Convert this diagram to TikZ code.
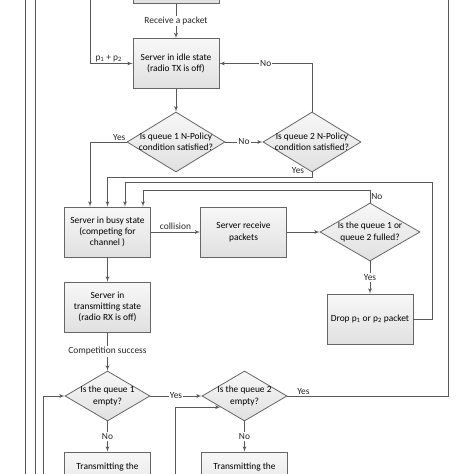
\documentclass[tikz,border=0pt]{standalone}
\usepackage{fontspec}
\setmainfont{Carlito}
\usepackage{tikz}
\usetikzlibrary{arrows,shapes,positioning,calc}

\newcommand{\dline}[1]{\makebox[0pt]{#1}}

\begin{document}
\begin{tikzpicture}[->,>=latex',x=1pt,y=-1pt,on grid,
	line width=0.8pt,draw=black!65,
	font=\fontsize{9.4}{11.3}\selectfont]

\tikzset{
	stateBox/.style={
		rectangle,
		draw=black!60,
		top color=black!3,
		bottom color=black!12,
		minimum width=86pt,
		minimum height=50pt,
		align=center,
		inner sep=1pt,
		line width=0.8pt
	}
}

\tikzset{
	decisionNode/.style={
		diamond,
		draw=black!60,
		top color=black!3,
		bottom color=black!12,
		aspect=1.65,
		inner sep=0pt,
		align=center,
		line width=0.8pt
	}
}

\tikzset{
	onLine/.style={fill=white,inner sep=1pt,text=black!85},
	sideText/.style={inner sep=1pt,text=black!85}
}

\path[use as bounding box,clip] (0,0) rectangle (474,474);

\node[stateBox](idle) at (176,63.5) {Server in idle state\\(radio TX is off)};
\node[stateBox](recvTop) [above=85pt of idle] {};

\node[decisionNode,minimum width=98pt,minimum height=60pt](queueOne) [below=78.5pt of idle] {\dline{Is queue 1 N-Policy}\\\dline{condition satisfied?}};
\node[decisionNode,minimum width=98pt,minimum height=60pt](queueTwo) [right=136pt of queueOne] {\dline{Is queue 2 N-Policy}\\\dline{condition satisfied?}};

\node[stateBox](busy) [below left=90pt and 68.5pt of queueOne] {Server in busy state\\(competing for\\channel )};
\node[stateBox](recv) [right=136pt of busy] {Server receive\\packets};
\node[decisionNode,minimum width=100pt,minimum height=58pt](full) [right=126.5pt of recv] {\dline{Is the queue 1 or}\\\dline{queue 2 fulled?}};
\node[stateBox](drop) [below=87pt of full] {Drop p\textsubscript{1} or p\textsubscript{2} packet};

\node[stateBox](trans) [below=75pt of busy] {Server in\\transmitting state\\(radio RX is off)};

\node[decisionNode,minimum width=85pt,minimum height=50pt](emptyOne) [below=89pt of trans] {\dline{Is the queue 1}\\\dline{empty?}};
\node[decisionNode,minimum width=85pt,minimum height=50pt](emptyTwo) [right=137pt of emptyOne] {\dline{Is the queue 2}\\\dline{empty?}};

\node[stateBox,text depth=22pt](sendOne) [below=81pt of emptyOne] {Transmitting the};
\node[stateBox,text depth=22pt](sendTwo) [below=81pt of emptyTwo] {Transmitting the};

% loose ends at the borders
\coordinate (pIn) at (90,-5);
\coordinate (yesOut) at (448,-5);
\coordinate (loopA) at (25,-5);
\coordinate (loopAend) at (25,480);
\coordinate (loopB) at (35,-5);
\coordinate (loopBend) at (35,480);
\coordinate (backOne) at (43,480);
\coordinate (backTwo) at (175,480);
\coordinate (twoIn) at ($(emptyTwo.west)!0.44!(emptyTwo.south)$);

\draw (recvTop) -- node[onLine] {Receive a packet} (idle);
\draw (pIn) |- node[sideText,pos=0.72,above] {p\textsubscript{1} + p\textsubscript{2}} (idle.west);
\draw (queueTwo.north) |- node[onLine,pos=0.75] {No} (idle.east);
\draw (idle) -- (queueOne);
\draw (queueOne) -- node[onLine] {No} (queueTwo);

\draw (queueOne.west) -| node[sideText,pos=0.1,above] {Yes} (busy.north -| 90,0);
\draw (queueTwo.south) |- ++(0,5) -| (busy.north);
\node[sideText] (yesTwo) at (298,171) {Yes};
\draw[-] (drop.east) -| (432,182);
\draw (432,182) -| (busy.north -| 125,0);
\draw (full.north) |- node[sideText,right,pos=0.25] {No} (143,190) -- (busy.north -| 143,0);

\draw (busy) -- node[sideText,above=1pt] {collision} (recv);
\draw (recv) -- (full);
\draw (full) -- node[onLine] {Yes} (drop);

\draw (busy) -- (trans);
\draw (trans) -- node[onLine] {Competition success} (emptyOne);
\draw (emptyOne) -- node[onLine] {Yes} (emptyTwo);
\draw[-] (emptyTwo.east) -| node[sideText,pos=0.05,above] {Yes} (yesOut);
\draw (emptyOne) -- node[onLine] {No} (sendOne);
\draw (emptyTwo) -- node[onLine] {No} (sendTwo);

\draw (backOne) |- (emptyOne.west);
\draw (backTwo) |- (twoIn);
\draw[-] (loopA) -- (loopAend);
\draw[-] (loopB) -- (loopBend);

\end{tikzpicture}
\end{document}
